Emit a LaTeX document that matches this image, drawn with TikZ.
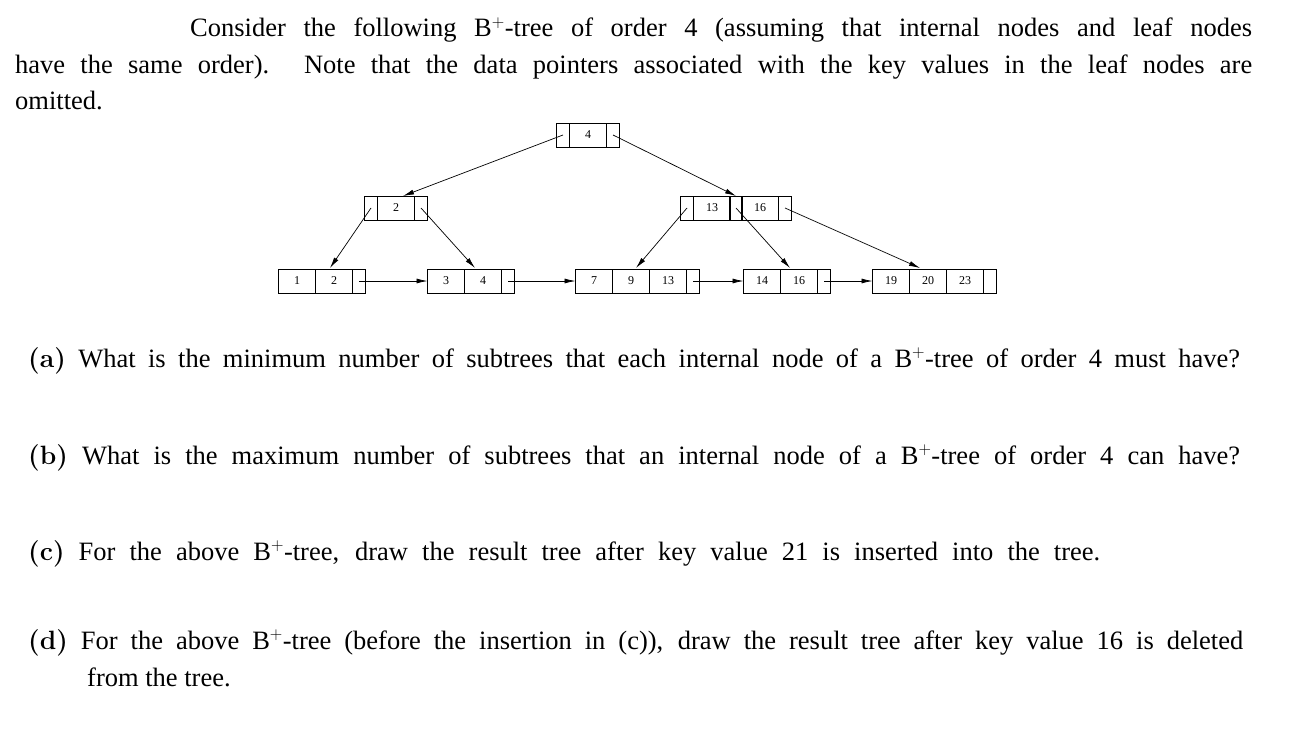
\documentclass[tikz,border=0pt]{standalone}
\usepackage{fontspec}
\newfontfamily\tms{Liberation Serif}
\newcommand{\lbl}[1]{{\normalfont\bfseries #1}}
\usetikzlibrary{arrows.meta}
\begin{document}
\begin{tikzpicture}[x=1pt,y=-1pt,
  txt/.style={anchor=base west,inner sep=0pt,font=\tms\fontsize{26.5}{30}\selectfont},
  cell/.style={draw,line width=0.8pt,minimum height=24pt,inner sep=0pt,outer sep=0pt,font=\tms\fontsize{12}{14}\selectfont},
  key/.style={cell,minimum width=37pt},
  ptr/.style={cell,minimum width=13pt},
  link/.style={line width=0.7pt,-{Latex[length=11pt,width=5pt]}}]
\useasboundingbox (0,0) rectangle (1308,746);
% text
\node[txt] (t1) at (190,37) {\makebox[1062pt][s]{Consider the following B$^+$-tree of order 4 (assuming that internal nodes and leaf nodes}};
\node[txt] (t2) at (15,74) {\makebox[1237pt][s]{have the same order). Note that the data pointers associated with the key values in the leaf nodes are}};
\node[txt] (t3) at (15,110) {omitted.};
\node[txt] (qa) at (28,367) {\makebox[1212pt][s]{\lbl{(a)} What is the minimum number of subtrees that each internal node of a B$^+$-tree of order 4 must have?}};
\node[txt] (qb) at (28,464) {\makebox[1212pt][s]{\lbl{(b)} What is the maximum number of subtrees that an internal node of a B$^+$-tree of order 4 can have?}};
\node[txt] (qc) at (28,560) {\makebox[1072pt][s]{\lbl{(c)} For the above B$^+$-tree, draw the result tree after key value 21 is inserted into the tree.}};
\node[txt] (qd) at (28,649) {\makebox[1215pt][s]{\lbl{(d)} For the above B$^+$-tree (before the insertion in (c)), draw the result tree after key value 16 is deleted}};
\node[txt] (qd2) at (87,686) {from the tree.};
% root
\node[ptr] (r0) at (563,135) {};
\node[key] (r1) at (588,135) {4};
\node[ptr] (r2) at (613,135) {};
% node 2
\node[ptr] (a0) at (371,208) {};
\node[key] (a1) at (396,208) {2};
\node[ptr] (a2) at (421,208) {};
% node 13 16
\node[ptr] (b0) at (687,208) {};
\node[key] (b1) at (712,208) {13};
\node[ptr] (b2) at (736,208) {};
\node[key] (b3) at (760,208) {16};
\node[ptr] (b4) at (785,208) {};
% leaves
\node[key] (l11) at (297,281) {1};
\node[key] (l12) at (334,281) {2};
\node[ptr] (l1p) at (359,281) {};
\node[key] (l21) at (446,281) {3};
\node[key] (l22) at (483,281) {4};
\node[ptr] (l2p) at (508,281) {};
\node[key] (l31) at (594,281) {7};
\node[key] (l32) at (631,281) {9};
\node[key] (l33) at (668,281) {13};
\node[ptr] (l3p) at (693,281) {};
\node[key] (l41) at (762,281) {14};
\node[key] (l42) at (799,281) {16};
\node[ptr] (l4p) at (824,281) {};
\node[key] (l51) at (891,281) {19};
\node[key] (l52) at (928,281) {20};
\node[key] (l53) at (965,281) {23};
\node[ptr] (l5p) at (990,281) {};
% tree links
\draw[link] (r0.center) -- (a1.north west -| 403,0);
\draw[link] (r2.center) -- (b2.north);
\draw[link] (a0.center) -- (330,268);
\draw[link] (a2.center) -- (475,268);
\draw[link] (b0.center) -- (636,268);
\draw[link] (b2.center) -- (790,268);
\draw[link] (b4.center) -- (920,268);
% chain
\draw[link] (l1p.center) -- (l21.west);
\draw[link] (l2p.center) -- (l31.west);
\draw[link] (l3p.center) -- (l41.west);
\draw[link] (l4p.center) -- (l51.west);
\end{tikzpicture}
\end{document}
